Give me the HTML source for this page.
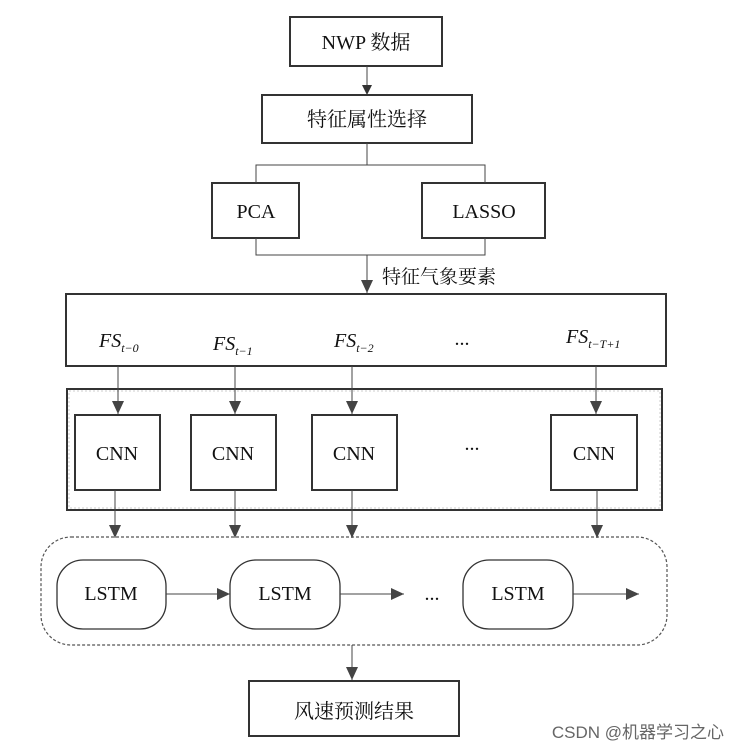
<!DOCTYPE html>
<html><head><meta charset="utf-8"><style>
body{margin:0;background:#fff}
svg text{font-family:"Liberation Serif","Noto Serif CJK SC",serif;fill:#111}
</style></head><body>
<svg width="739" height="751" viewBox="0 0 739 751" xmlns="http://www.w3.org/2000/svg">
<defs><marker id="a" markerWidth="10" markerHeight="10" refX="9" refY="5" orient="auto" markerUnits="userSpaceOnUse"><path d="M0,0 L10,5 L0,10 z" fill="#333"/></marker>
<marker id="b" markerWidth="14" markerHeight="14" refX="13" refY="6" orient="auto" markerUnits="userSpaceOnUse"><path d="M0,0 L13,6 L0,12 z" fill="#444"/></marker></defs>
<g fill="none" stroke="#333" stroke-width="2">
<rect x="290" y="17" width="152" height="49"/>
<rect x="262" y="95" width="210" height="48"/>
<rect x="212" y="183" width="87" height="55"/>
<rect x="422" y="183" width="123" height="55"/>
<rect x="66" y="294" width="600" height="72"/>
<rect x="67" y="389" width="595" height="121"/>
<rect x="75" y="415" width="85" height="75"/>
<rect x="191" y="415" width="85" height="75"/>
<rect x="312" y="415" width="85" height="75"/>
<rect x="551" y="415" width="86" height="75"/>
<rect x="249" y="681" width="210" height="55"/>
</g>
<rect x="69" y="391" width="591" height="117" fill="none" stroke="#ccc" stroke-width="1" stroke-dasharray="2 2"/>
<rect x="41" y="537" width="626" height="108" rx="30" fill="none" stroke="#555" stroke-width="1.2" stroke-dasharray="3 2"/>
<g fill="none" stroke="#333" stroke-width="1.3">
<rect x="57" y="560" width="109" height="69" rx="26"/>
<rect x="230" y="560" width="110" height="69" rx="26"/>
<rect x="463" y="560" width="110" height="69" rx="26"/>
</g>
<g stroke="#444" stroke-width="1" fill="none">
<line x1="367" y1="66" x2="367" y2="94" marker-end="url(#a)"/>
<polyline points="367,143 367,165"/>
<polyline points="256,183 256,165 485,165 485,183"/>
<polyline points="256,238 256,255 485,255 485,238"/>
<line x1="367" y1="255" x2="367" y2="293" marker-end="url(#b)"/>
<line x1="118" y1="366" x2="118" y2="414" marker-end="url(#b)"/>
<line x1="235" y1="366" x2="235" y2="414" marker-end="url(#b)"/>
<line x1="352" y1="366" x2="352" y2="414" marker-end="url(#b)"/>
<line x1="596" y1="366" x2="596" y2="414" marker-end="url(#b)"/>
<line x1="115" y1="490" x2="115" y2="538" marker-end="url(#b)"/>
<line x1="235" y1="490" x2="235" y2="538" marker-end="url(#b)"/>
<line x1="352" y1="490" x2="352" y2="538" marker-end="url(#b)"/>
<line x1="597" y1="490" x2="597" y2="538" marker-end="url(#b)"/>
<line x1="166" y1="594" x2="230" y2="594" marker-end="url(#b)"/>
<line x1="340" y1="594" x2="404" y2="594" marker-end="url(#b)"/>
<line x1="573" y1="594" x2="639" y2="594" marker-end="url(#b)"/>
<line x1="352" y1="645" x2="352" y2="680" marker-end="url(#b)"/>
</g>
<g font-size="20" text-anchor="middle">
<text x="366" y="49">NWP 数据</text>
<text x="367" y="126">特征属性选择</text>
<text x="256" y="218">PCA</text>
<text x="484" y="218">LASSO</text>
<text x="354" y="718">风速预测结果</text>
</g>
<text x="382" y="283" font-size="19">特征气象要素</text>
<g font-size="20" text-anchor="middle">
<text x="117" y="460">CNN</text><text x="233" y="460">CNN</text><text x="354" y="460">CNN</text><text x="594" y="460">CNN</text>
<text x="111" y="600">LSTM</text><text x="285" y="600">LSTM</text><text x="518" y="600">LSTM</text>
<text x="432" y="600">...</text><text x="472" y="450">...</text><text x="462" y="345">...</text>
</g>
<g font-size="20" font-style="italic">
<text x="99" y="347">FS<tspan font-size="12" dy="5">t−0</tspan></text>
<text x="213" y="350">FS<tspan font-size="12" dy="5">t−1</tspan></text>
<text x="334" y="347">FS<tspan font-size="12" dy="5">t−2</tspan></text>
<text x="566" y="343">FS<tspan font-size="12" dy="5">t−T+1</tspan></text>
</g>
<text x="724" y="738" font-size="17" text-anchor="end" style="font-family:'Liberation Sans','Noto Sans CJK SC',sans-serif;fill:#666">CSDN @机器学习之心</text>
</svg>
</body></html>
